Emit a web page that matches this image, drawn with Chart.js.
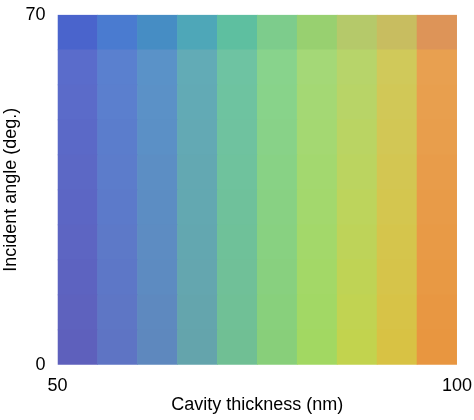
<!DOCTYPE html>
<html><head><meta charset="utf-8">
<script src="https://cdn.jsdelivr.net/npm/chart.js@4"></script>
<style>body{margin:0;background:#fff}#c{width:474px;height:420px}</style>
</head><body><div id="c"><canvas id="chart"></canvas></div>
<script>
// cavity thickness column centres (nm), angle rows (deg.)
const thickness = [52.5, 57.5, 62.5, 67.5, 72.5, 77.5, 82.5, 87.5, 92.5, 97.5];
const angleStep = 7;
const rows = 10;
const xTicks = [50, 100];
const yTicks = [0, 70];
// colours per column: top row, upper body, bottom
const topColors = ['#4a64cc','#4a7bd0','#468dc4','#4ea7b8','#5ebfa0','#7dcc8c','#98d070','#b5c96a','#c8bd60','#dd9458'];
const upperColors = ['#5a6ccb','#5a80cf','#5a92c8','#62abb6','#6ec3a2','#88d38c','#a4d877','#b7d46a','#d0c95a','#e8a050'];
const lowerColors = ['#5e60bc','#5e74c4','#5e88be','#64a4ac','#70bf94','#88cf7a','#a2d862','#c2d34e','#d8c244','#e89640'];

function hex(h){return [1,3,5].map(i=>parseInt(h.substr(i,2),16));}
function mix(a,b,t){const A=hex(a),B=hex(b);return 'rgb('+A.map((v,i)=>Math.round(v+(B[i]-v)*t)).join(',')+')';}

const datasets = [];
for (let r = 0; r < rows; r++) {
  datasets.push({
    data: thickness.map(x => ({x: x, y: angleStep})),
    backgroundColor: thickness.map((x, i) => r === rows - 1 ? topColors[i] : mix(lowerColors[i], upperColors[i], r / (rows - 2))),
    borderWidth: 0,
    barPercentage: 1,
    categoryPercentage: 1
  });
}

const font = {family: 'Liberation Sans', size: 18};
new Chart(document.getElementById('chart'), {
  type: 'bar',
  data: {datasets: datasets},
  options: {
    responsive: true, maintainAspectRatio: false, animation: false,
    layout: {padding: {top: 8, right: 17, left: 0, bottom: 4}},
    plugins: {legend: {display: false}, tooltip: {enabled: false}},
    scales: {
      x: {
        type: 'linear', stacked: true, min: 50, max: 100, offset: false,
        afterBuildTicks: a => { a.ticks = xTicks.map(v => ({value: v})); },
        grid: {display: false}, border: {display: false},
        ticks: {color: '#000', padding: 2, font: font},
        title: {display: true, text: 'Cavity thickness (nm)', color: '#000', padding: {top: -4, bottom: 0}, font: font}
      },
      y: {
        type: 'linear', stacked: true, min: 0, max: 70,
        afterBuildTicks: a => { a.ticks = yTicks.map(v => ({value: v})); },
        grid: {display: false}, border: {display: false},
        ticks: {color: '#000', padding: 4, font: font},
        title: {display: true, text: 'Incident angle (deg.)', color: '#000', padding: 0, font: font}
      }
    }
  }
});
</script></body></html>
